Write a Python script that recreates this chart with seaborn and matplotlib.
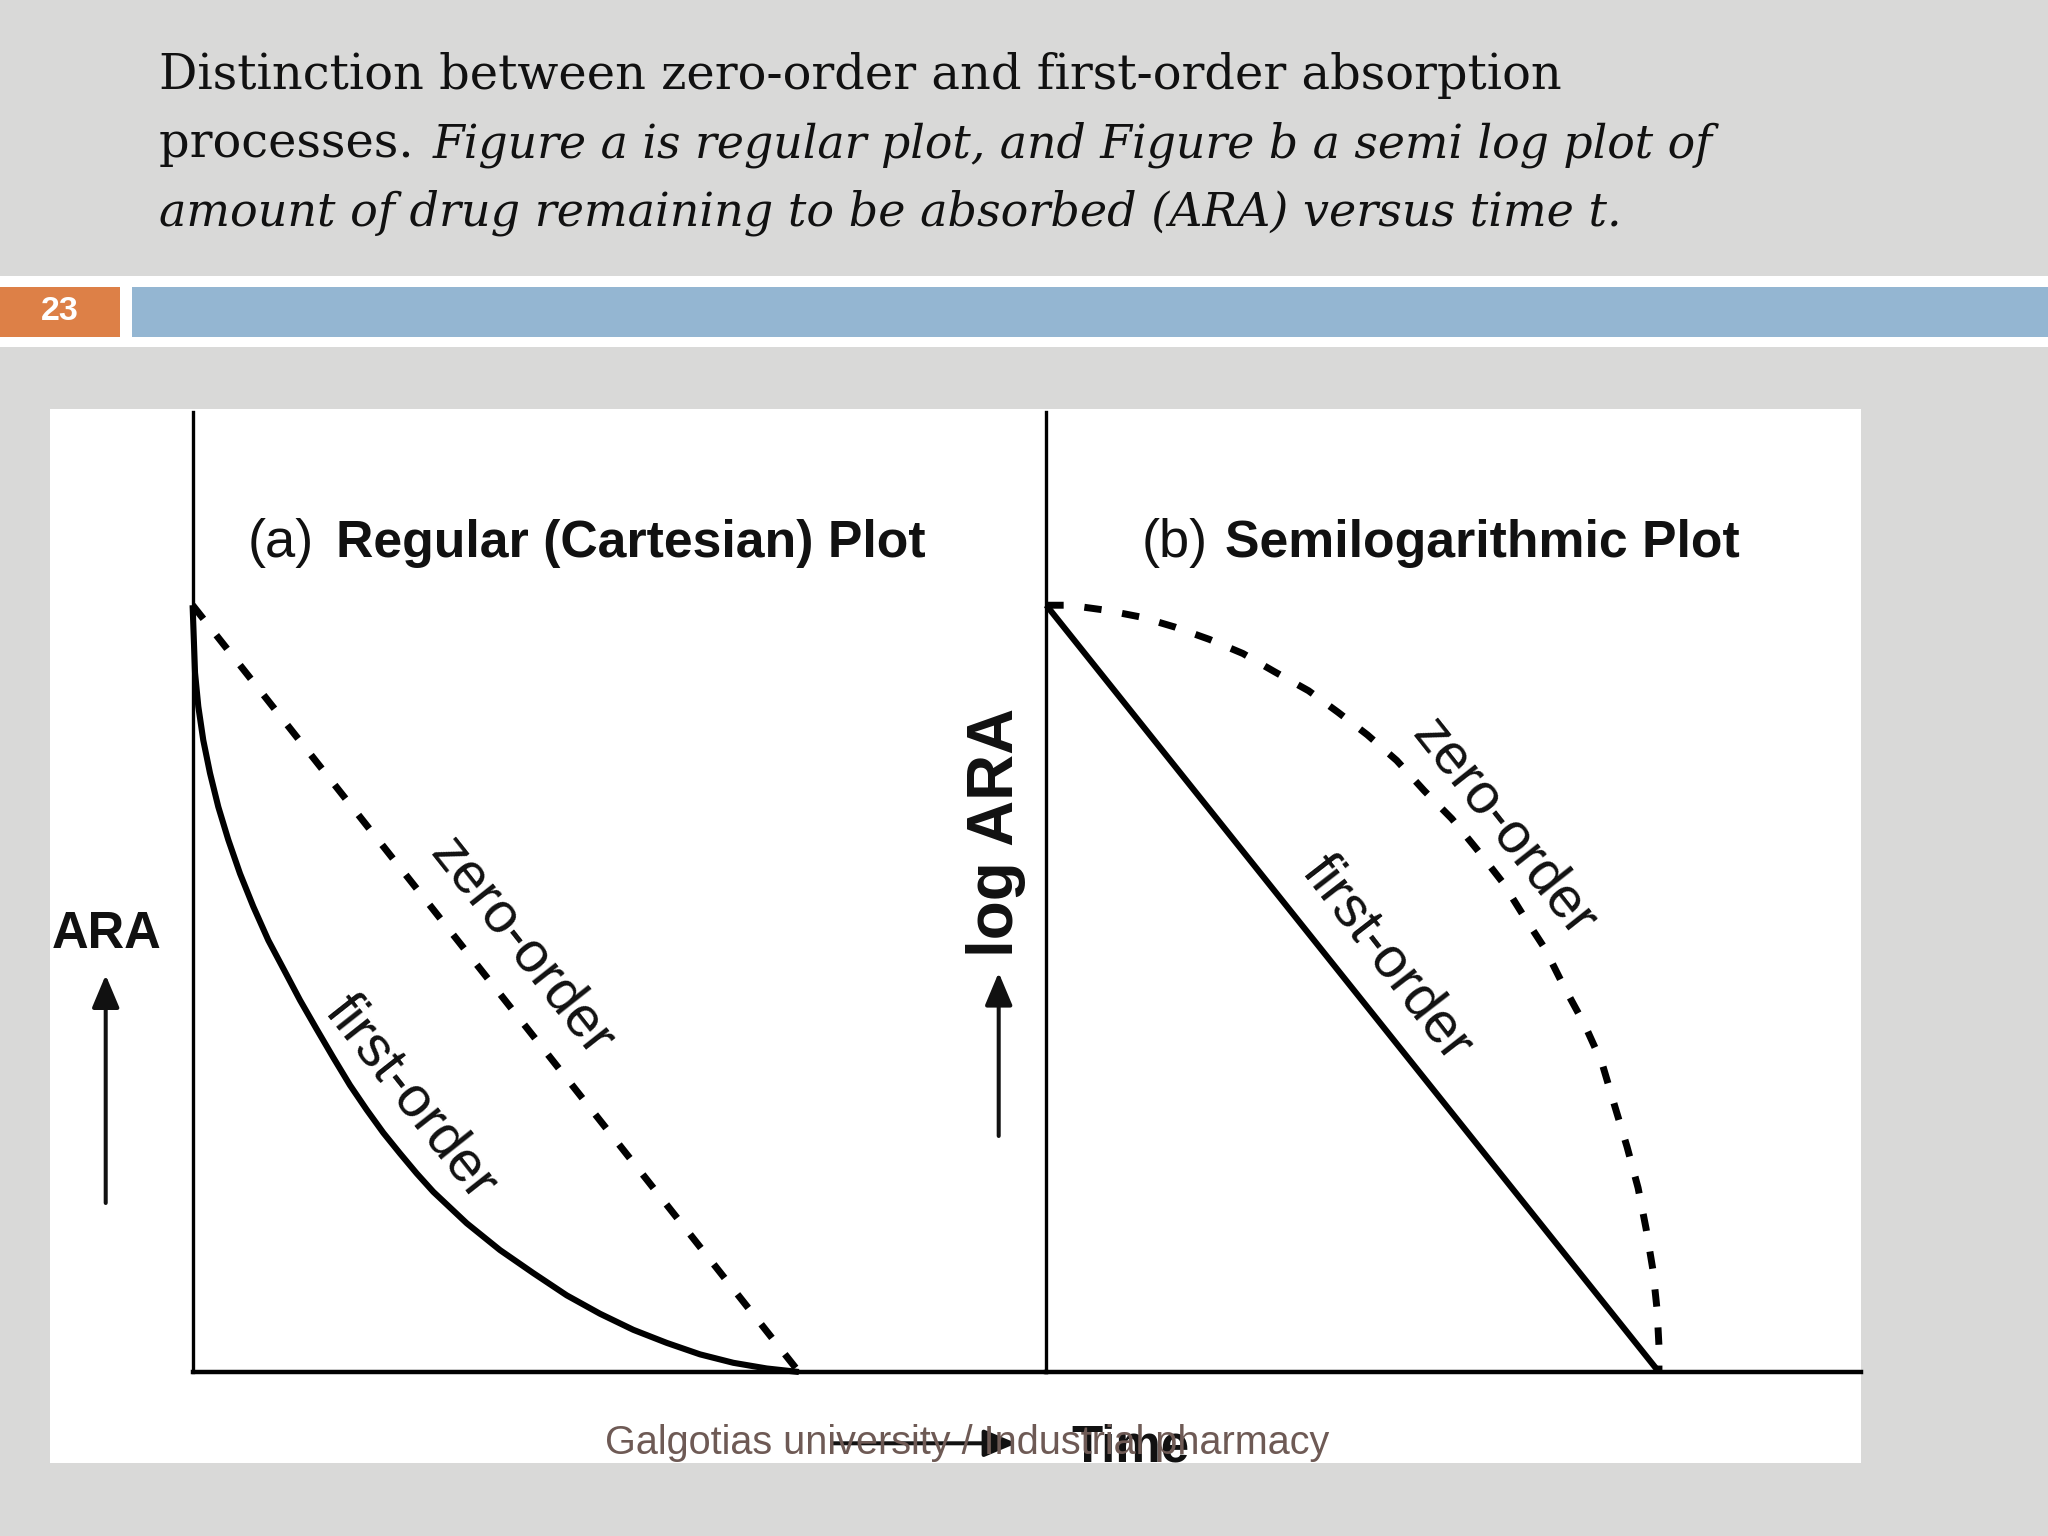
import matplotlib
matplotlib.use("Agg")
import matplotlib.pyplot as plt
import seaborn as sns
from matplotlib.patches import Rectangle, FancyArrowPatch

# ---------------- data ----------------
# (a) regular plot: ARA (arbitrary units, initial = 100) vs time (arbitrary units, ends at 10)
time_a_first = [0.0, 0.040, 0.094, 0.176, 0.287, 0.424, 0.589, 0.782, 1.001, 1.249,
                1.524, 1.771, 2.047, 2.321, 2.596, 2.871, 3.145, 3.421, 3.696, 3.970,
                4.521, 5.070, 5.619, 6.170, 6.719, 7.269, 7.819, 8.369, 8.918, 9.469, 10.0]
ara_a_first = [100.0, 91.2, 86.8, 82.4, 78.1, 73.7, 69.4, 65.0, 60.7, 56.3,
               52.2, 48.5, 44.7, 41.0, 37.4, 34.2, 31.2, 28.5, 25.9, 23.5,
               19.4, 15.9, 12.9, 10.0, 7.6, 5.5, 3.8, 2.3, 1.2, 0.46, 0.0]
time_a_zero = [0, 2, 4, 6, 8, 10]
ara_a_zero = [100, 80, 60, 40, 20, 0]

# (b) semilogarithmic plot: log ARA vs time
time_b_first = [0, 2, 4, 6, 8, 10]
logara_b_first = [2.0, 1.6, 1.2, 0.8, 0.4, 0.0]
time_b_zero = [0.0, 0.38, 0.97, 1.55, 2.10, 2.66, 3.21, 3.72, 4.28, 4.76, 5.24, 5.72,
               6.17, 6.62, 7.03, 7.45, 7.79, 8.14, 8.45, 8.79, 9.07, 9.28, 9.48,
               9.66, 9.79, 9.90, 9.97, 10.0, 10.0]
logara_b_zero = [2.0, 2.0, 1.987, 1.969, 1.943, 1.911, 1.874, 1.827, 1.777, 1.721,
                 1.662, 1.595, 1.516, 1.443, 1.363, 1.277, 1.190, 1.104, 1.005,
                 0.905, 0.806, 0.693, 0.587, 0.480, 0.374, 0.268, 0.162, 0.069, 0.0]

title_lines = ["Distinction between zero-order and first-order absorption",
               "processes. ",
               "Figure a is regular plot, and Figure b a semi log plot of",
               "amount of drug remaining to be absorbed (ARA) versus time t."]
slide_number = "23"
footer_text = "Galgotias university / Industrial pharmacy"

# ---------------- style ----------------
sns.set_style("white")
plt.rcParams["font.family"] = ["Liberation Sans", "DejaVu Sans"]

W, H = 2048, 1536
fig = plt.figure(figsize=(20.48, 15.36), dpi=100)
fig.patch.set_facecolor("#d9d9d8")
renderer = fig.canvas.get_renderer()


def fx(px):
    return px / W


def fy(py):
    return 1 - py / H


def fit(t, width_px):
    w = t.get_window_extent(renderer).width
    t.set_fontsize(t.get_fontsize() * width_px / w)
    return t


# slide decorations
fig.patches.append(Rectangle((0, fy(347)), 1, (347 - 276) / H, transform=fig.transFigure,
                             facecolor="white", edgecolor="none", zorder=-2))
fig.patches.append(Rectangle((0, fy(337)), fx(120), 50 / H, transform=fig.transFigure,
                             facecolor="#dd8047", edgecolor="none", zorder=-1))
fig.patches.append(Rectangle((fx(132), fy(337)), 1 - fx(132), 50 / H, transform=fig.transFigure,
                             facecolor="#94b6d2", edgecolor="none", zorder=-1))
fig.text(fx(60), fy(312), slide_number, color="white", fontsize=24.5, fontweight="bold",
         ha="center", va="center")

# white picture area
fig.patches.append(Rectangle((fx(50), fy(1463)), fx(1861 - 50), (1463 - 409) / H,
                             transform=fig.transFigure, facecolor="white",
                             edgecolor="none", zorder=-1))

# title
serif = ["DejaVu Serif"]
t1 = fig.text(fx(159), fy(89), title_lines[0], family=serif, fontsize=30,
              ha="left", va="baseline", color="#111111")
fit(t1, 1405)
fs_title = t1.get_fontsize()
t3 = fig.text(fx(159), fy(225), title_lines[3], family=serif, fontsize=fs_title,
              style="italic", ha="left", va="baseline", color="#111111")
fit(t3, 1460)
fs_ital = t3.get_fontsize()
t2a = fig.text(fx(159), fy(157), title_lines[1], family=serif, fontsize=fs_title,
               ha="left", va="baseline", color="#111111")
bb = t2a.get_window_extent(renderer)
t2b = fig.text(bb.x1 / W + 0.002, fy(157), title_lines[2], family=serif, fontsize=fs_ital,
               style="italic", ha="left", va="baseline", color="#111111")
fit(t2b, 1704 - 420)

# ---------------- axes ----------------
ax_a = fig.add_axes([fx(192.6), fy(1372), fx(1046.3 - 192.6), (1372 - 412) / H])
ax_b = fig.add_axes([fx(1046.3), fy(1372), fx(1860.5 - 1046.3), (1372 - 412) / H])

curve_lw = 4.4
dash_lw = 5.0
dash = (0, (2.5, 3.0))

sns.lineplot(x=time_a_first, y=ara_a_first, ax=ax_a, color="black", lw=curve_lw,
             estimator=None, sort=False, clip_on=False)
sns.lineplot(x=time_a_zero, y=ara_a_zero, ax=ax_a, color="black", lw=dash_lw,
             estimator=None, sort=False, clip_on=False)
ax_a.lines[-1].set_linestyle(dash)

sns.lineplot(x=time_b_first, y=logara_b_first, ax=ax_b, color="black", lw=curve_lw,
             estimator=None, sort=False, clip_on=False)
sns.lineplot(x=time_b_zero, y=logara_b_zero, ax=ax_b, color="black", lw=dash_lw,
             estimator=None, sort=False, clip_on=False)
ax_b.lines[-1].set_linestyle(dash)

for ln in ax_a.lines + ax_b.lines:
    ln.set_solid_joinstyle("round")
    ln.set_solid_capstyle("butt")

ax_a.set_xlim(0, 14.08)
ax_a.set_ylim(0, 125.2)
ax_b.set_xlim(0, 13.29)
ax_b.set_ylim(0, 2.504)

for ax in (ax_a, ax_b):
    ax.set_facecolor("none")
    ax.set_xticks([])
    ax.set_yticks([])
    ax.set_xlabel("")
    ax.set_ylabel("")
    ax.spines["top"].set_visible(False)
    ax.spines["right"].set_visible(False)
    ax.spines["left"].set_linewidth(2.4)
    ax.spines["bottom"].set_linewidth(3.2)
    ax.spines["left"].set_color("black")
    ax.spines["bottom"].set_color("black")

# panel titles
pa = fig.text(fx(336), fy(557), "Regular (Cartesian) Plot", fontweight="bold",
              fontsize=40, ha="left", va="baseline", color="#111111")
fit(pa, 585)
pb = fig.text(fx(1225), fy(557), "Semilogarithmic Plot", fontweight="bold",
              fontsize=40, ha="left", va="baseline", color="#111111")
fit(pb, 517)
fs_pt = 0.5 * (pa.get_fontsize() + pb.get_fontsize())
pa.set_fontsize(fs_pt)
pb.set_fontsize(fs_pt)
fig.text(fx(314), fy(557), "(a)", fontsize=fs_pt * 1.05, ha="right", va="baseline",
         color="#111111")
fig.text(fx(1208), fy(557), "(b)", fontsize=fs_pt * 1.05, ha="right", va="baseline",
         color="#111111")

# inline curve labels
zl = fig.text(0, 0, "zero-order", fontsize=40)
fit(zl, 262)
fs_lab = zl.get_fontsize()
zl.remove()
labels = [("zero-order", 522, 947.4, -51.7), ("first-order", 410.5, 1097.9, -51.7),
          ("zero-order", 1504, 827.5, -51.6), ("first-order", 1387.3, 958.9, -52.2)]
for txt, px, py, rot in labels:
    fig.text(fx(px), fy(py), txt, fontsize=fs_lab, rotation=rot, rotation_mode="anchor",
             ha="center", va="center", color="#111111")

# axis labels with arrows
ara = fig.text(fx(106.7), fy(948), "ARA", fontweight="bold", fontsize=40,
               ha="center", va="baseline", color="#111111")
fit(ara, 110)
fs_ax = ara.get_fontsize()
lg = fig.text(0, 0, "log ARA", fontweight="bold", fontsize=40)
fit(lg, 249)
fs_lg = lg.get_fontsize()
lg.remove()
fig.text(fx(995.8), fy(832.5), "log ARA", fontweight="bold", fontsize=fs_lg,
         rotation=90, ha="center", va="center", color="#111111")
tm = fig.text(fx(1130), fy(1461), "Time", fontweight="bold", fontsize=fs_ax,
              ha="center", va="baseline", color="#111111")
fit(tm, 118)


def arrow(x0, y0, x1, y1):
    fig.patches.append(FancyArrowPatch((fx(x0), fy(y0)), (fx(x1), fy(y1)),
                                       transform=fig.transFigure,
                                       arrowstyle="-|>,head_length=1.0,head_width=0.42",
                                       mutation_scale=20, lw=2.9, color="#111111",
                                       shrinkA=0, shrinkB=0, zorder=2))


arrow(105.7, 1203, 105.7, 975)
arrow(998.7, 1136, 998.7, 972.6)
arrow(832, 1443.3, 1016.6, 1443.3)

# footer
ft = fig.text(fx(605.2), fy(1454), footer_text, fontsize=24, color="#6e5a55",
              ha="left", va="baseline", zorder=10)
fit(ft, 724)

fig.savefig("out.png", dpi=100, facecolor=fig.get_facecolor())
